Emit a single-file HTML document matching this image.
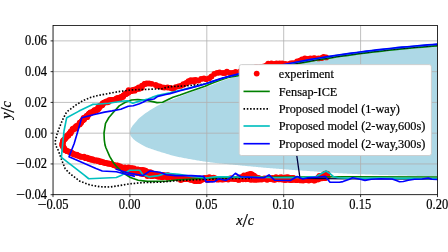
<!DOCTYPE html>
<html lang="en"><head><meta charset="utf-8"><title>Ice shape comparison</title>
<style>html,body{margin:0;padding:0;background:#fff;overflow:hidden}svg{display:block}</style></head>
<body>
<svg width="448" height="252" viewBox="0 0 448 252">
<rect width="448" height="252" fill="#fff"/>
<defs><clipPath id="ax"><rect x="53.0" y="25.5" width="384.5" height="169.2"/></clipPath></defs>
<g clip-path="url(#ax)">
<polygon points="130.00,133.10 130.00,132.83 130.01,132.55 130.02,132.28 130.05,132.01 130.08,131.74 130.12,131.47 130.16,131.20 130.21,130.93 130.27,130.67 130.34,130.40 130.41,130.14 130.48,129.88 130.56,129.62 130.65,129.36 130.74,129.10 130.83,128.85 130.94,128.59 131.04,128.34 131.15,128.10 131.27,127.85 131.40,127.61 131.53,127.37 131.66,127.14 131.80,126.90 131.95,126.67 132.10,126.44 132.25,126.22 132.41,125.99 132.57,125.77 132.74,125.55 132.90,125.34 133.07,125.12 133.25,124.91 133.42,124.69 133.60,124.48 133.78,124.27 133.96,124.06 134.15,123.85 134.33,123.65 134.51,123.44 134.70,123.24 134.88,123.03 135.07,122.83 135.25,122.62 135.44,122.42 135.62,122.21 135.80,122.01 135.98,121.80 136.16,121.60 136.34,121.39 136.51,121.19 136.69,120.98 136.86,120.77 137.02,120.56 137.19,120.35 137.35,120.14 137.50,119.93 137.65,119.72 137.80,119.51 139.05,118.35 140.31,117.26 141.56,116.22 142.82,115.23 144.07,114.28 145.32,113.37 146.58,112.49 147.83,111.63 149.09,110.81 150.34,110.00 151.59,109.22 152.85,108.45 154.10,107.71 155.36,106.98 156.61,106.27 157.86,105.57 159.12,104.89 160.37,104.21 161.63,103.56 162.88,102.91 164.13,102.29 165.39,101.83 166.64,101.38 167.90,100.95 169.15,100.52 170.40,100.10 171.66,99.69 172.91,99.28 174.17,98.75 175.42,98.21 176.67,97.68 177.93,97.16 179.18,96.64 180.44,96.14 181.69,95.64 182.94,95.15 184.20,94.67 185.45,94.19 186.71,93.72 187.96,93.26 189.21,92.80 190.47,92.34 191.72,91.89 192.97,91.45 194.23,91.01 195.48,90.57 196.74,90.14 197.99,89.72 199.24,89.29 200.50,88.88 201.75,88.47 203.01,88.06 204.26,87.65 205.51,87.23 206.77,86.77 208.02,86.32 209.28,85.87 210.53,85.43 211.78,84.98 213.04,84.47 214.29,83.95 215.55,83.43 216.80,82.91 218.05,82.40 219.31,81.89 220.56,81.42 221.82,80.99 223.07,80.57 224.32,80.15 225.58,79.74 226.83,79.32 228.09,78.91 229.34,78.51 230.59,78.11 231.85,77.71 233.10,77.31 234.36,76.92 235.61,76.53 236.86,76.14 238.12,75.75 239.37,75.40 240.63,75.10 241.88,74.81 243.13,74.52 244.39,74.23 245.64,73.94 246.90,73.66 248.15,73.38 249.40,73.10 250.66,72.83 251.91,72.55 253.17,72.28 254.42,72.01 255.67,71.75 256.93,71.48 258.18,71.22 259.44,70.96 260.69,70.70 261.94,70.45 263.20,70.20 264.45,69.95 265.71,69.70 266.96,69.45 268.21,69.21 269.47,68.97 270.72,68.73 271.98,68.49 273.23,68.25 274.48,68.02 275.74,67.79 276.99,67.56 278.25,67.33 279.50,67.10 280.75,66.88 282.01,66.66 283.26,66.43 284.52,66.17 285.77,65.91 287.02,65.66 288.28,65.41 289.53,65.16 290.78,64.91 292.04,64.67 293.29,64.42 294.55,64.18 295.80,63.94 297.05,63.70 298.31,63.46 299.56,63.23 300.82,62.99 302.07,62.76 303.32,62.53 304.58,62.30 305.83,62.08 307.09,61.85 308.34,61.63 309.59,61.41 310.85,61.19 312.10,60.97 313.36,60.75 314.61,60.53 315.86,60.32 317.12,60.11 318.37,59.90 319.63,59.69 320.88,59.48 322.13,59.27 323.39,59.07 324.64,58.86 325.90,58.66 327.15,58.46 328.40,58.26 329.66,58.07 330.91,57.87 332.17,57.68 333.42,57.48 334.67,57.29 335.93,57.10 337.18,56.91 338.44,56.73 339.69,56.54 340.94,56.36 342.20,56.17 343.45,55.99 344.71,55.81 345.96,55.63 347.21,55.45 348.47,55.28 349.72,55.10 350.98,54.93 352.23,54.76 353.48,54.59 354.74,54.42 355.99,54.25 357.25,54.08 358.50,53.92 359.75,53.75 361.01,53.59 362.26,53.43 363.52,53.27 364.77,53.11 366.02,52.95 367.28,52.80 368.53,52.64 369.79,52.49 371.04,52.33 372.29,52.18 373.55,52.03 374.80,51.88 376.06,51.73 377.31,51.59 378.56,51.44 379.82,51.30 381.07,51.16 382.33,51.01 383.58,50.87 384.83,50.73 386.09,50.60 387.34,50.46 388.59,50.32 389.85,50.19 391.10,50.05 392.36,49.92 393.61,49.79 394.86,49.66 396.12,49.53 397.37,49.40 398.63,49.28 399.88,49.15 401.13,49.03 402.39,48.90 403.64,48.78 404.90,48.66 406.15,48.54 407.40,48.42 408.66,48.31 409.91,48.19 411.17,48.07 412.42,47.96 413.67,47.85 414.93,47.73 416.18,47.62 417.44,47.51 418.69,47.40 419.94,47.30 421.20,47.19 422.45,47.08 423.71,46.98 424.96,46.87 426.21,46.77 427.47,46.67 428.72,46.57 429.98,46.47 431.23,46.37 432.48,46.27 433.74,46.18 434.99,46.08 436.25,45.99 437.50,45.89 437.50,176.30 436.44,176.28 435.38,176.27 434.32,176.25 433.26,176.23 432.20,176.21 431.14,176.19 430.08,176.17 429.02,176.15 427.96,176.13 426.90,176.10 425.84,176.08 424.78,176.06 423.72,176.03 422.66,176.01 421.60,175.99 420.54,175.96 419.48,175.94 418.42,175.91 417.36,175.89 416.30,175.86 415.24,175.83 414.18,175.81 413.12,175.78 412.06,175.75 411.00,175.73 409.94,175.70 408.88,175.67 407.82,175.64 406.76,175.61 405.70,175.59 404.64,175.56 403.58,175.53 402.52,175.50 401.46,175.47 400.40,175.45 399.34,175.42 398.28,175.39 397.22,175.36 396.16,175.33 395.10,175.30 394.04,175.27 392.98,175.25 391.92,175.22 390.87,175.19 389.81,175.16 388.75,175.13 387.69,175.11 386.63,175.08 385.57,175.05 384.51,175.03 383.45,175.00 382.39,174.97 381.33,174.95 380.27,174.92 379.21,174.89 378.15,174.85 377.09,174.81 376.03,174.77 374.97,174.73 373.91,174.69 372.85,174.66 371.79,174.62 370.73,174.58 369.67,174.55 368.61,174.51 367.55,174.47 366.49,174.44 365.43,174.40 364.37,174.36 363.31,174.33 362.25,174.29 361.19,174.25 360.13,174.21 359.07,174.17 358.01,174.13 356.95,174.09 355.89,174.05 354.83,174.01 353.77,173.96 352.71,173.92 351.65,173.87 350.59,173.82 349.53,173.77 348.47,173.72 347.41,173.67 346.35,173.61 345.29,173.55 344.23,173.49 343.17,173.43 342.11,173.37 341.05,173.31 339.99,173.24 338.93,173.17 337.88,173.10 336.82,173.03 335.76,172.95 334.70,172.88 333.64,172.80 332.58,172.72 331.53,172.64 330.47,172.56 329.41,172.48 328.35,172.40 327.29,172.31 326.23,172.23 325.18,172.14 324.12,172.07 323.06,172.00 322.00,171.92 320.94,171.85 319.89,171.78 318.83,171.71 317.77,171.63 316.71,171.56 315.65,171.49 314.60,171.42 313.54,171.34 312.48,171.27 311.42,171.20 310.36,171.13 309.31,171.06 308.25,170.99 307.19,170.91 306.13,170.84 305.07,170.77 304.02,170.70 302.96,170.63 301.90,170.56 300.84,170.49 299.78,170.41 298.73,170.34 297.67,170.27 296.61,170.20 295.55,170.13 294.49,170.06 293.44,169.99 292.38,169.92 291.32,169.85 290.26,169.77 289.20,169.69 288.15,169.61 287.09,169.53 286.03,169.44 284.97,169.36 283.91,169.28 282.86,169.19 281.80,169.11 280.74,169.03 279.68,168.94 278.62,168.86 277.57,168.77 276.51,168.69 275.45,168.60 274.39,168.52 273.33,168.43 272.28,168.35 271.22,168.26 270.16,168.17 269.10,168.08 268.05,167.99 266.99,167.91 265.93,167.82 264.87,167.72 263.81,167.63 262.76,167.54 261.70,167.45 260.64,167.35 259.59,167.26 258.53,167.16 257.47,167.06 256.41,166.97 255.36,166.87 254.30,166.77 253.24,166.67 252.19,166.57 251.13,166.47 250.08,166.37 249.02,166.27 247.96,166.16 246.91,166.06 245.85,165.95 244.79,165.85 243.74,165.74 242.68,165.63 241.63,165.53 240.57,165.42 239.51,165.32 238.46,165.21 237.40,165.11 236.35,165.00 235.29,164.90 234.23,164.80 233.18,164.70 232.12,164.60 231.06,164.50 230.01,164.40 228.95,164.30 227.89,164.21 226.84,164.11 225.78,164.01 224.72,163.91 223.67,163.81 222.61,163.70 221.55,163.60 220.50,163.49 219.44,163.38 218.39,163.26 217.33,163.14 216.27,163.02 215.22,162.90 214.16,162.77 213.11,162.65 212.05,162.52 211.00,162.39 209.95,162.25 208.89,162.12 207.84,161.98 206.78,161.84 205.73,161.69 204.68,161.55 203.63,161.40 202.57,161.25 201.52,161.09 200.47,160.92 199.42,160.74 198.37,160.57 197.32,160.39 196.27,160.20 195.21,160.02 194.16,159.83 193.11,159.64 192.07,159.45 191.02,159.26 189.97,159.08 188.92,158.91 187.87,158.73 186.82,158.55 185.77,158.37 184.73,158.18 183.68,157.98 182.64,157.78 181.59,157.58 180.55,157.37 179.51,157.16 178.47,156.94 177.43,156.71 176.40,156.48 175.36,156.23 174.33,155.98 173.30,155.73 172.27,155.46 171.24,155.19 170.22,154.90 169.19,154.61 168.17,154.31 167.16,154.00 166.14,153.68 165.13,153.36 164.12,153.07 163.11,152.78 162.10,152.48 161.10,152.17 160.10,151.86 159.10,151.55 158.11,151.22 157.11,150.89 156.12,150.56 155.14,150.23 154.15,149.92 153.17,149.59 152.20,149.26 151.23,148.92 150.26,148.59 149.30,148.26 148.34,147.92 147.39,147.57 146.44,147.20 145.51,146.78 144.57,146.31 143.65,145.83 142.73,145.33 141.83,144.82 140.94,144.32 140.08,143.80 139.23,143.25 138.40,142.67 137.60,142.14 136.82,141.66 136.06,141.16 135.31,140.63 134.57,140.10 133.82,139.49 133.07,138.64 132.30,137.80 131.56,136.95 130.93,136.10 130.44,135.16 130.11,134.16 130.00,133.10" fill="#add8e6"/>
<g stroke="#b0b0b0" stroke-width="0.8" fill="none">
<line x1="53.00" y1="25.5" x2="53.00" y2="194.7"/>
<line x1="129.90" y1="25.5" x2="129.90" y2="194.7"/>
<line x1="206.80" y1="25.5" x2="206.80" y2="194.7"/>
<line x1="283.70" y1="25.5" x2="283.70" y2="194.7"/>
<line x1="360.60" y1="25.5" x2="360.60" y2="194.7"/>
<line x1="437.50" y1="25.5" x2="437.50" y2="194.7"/>
<line x1="53.0" y1="194.70" x2="437.5" y2="194.70"/>
<line x1="53.0" y1="163.94" x2="437.5" y2="163.94"/>
<line x1="53.0" y1="133.17" x2="437.5" y2="133.17"/>
<line x1="53.0" y1="102.41" x2="437.5" y2="102.41"/>
<line x1="53.0" y1="71.65" x2="437.5" y2="71.65"/>
<line x1="53.0" y1="40.88" x2="437.5" y2="40.88"/>
</g>
<g fill="#ff0000">
<circle cx="62.6" cy="143.4" r="2.9"/>
<circle cx="62.8" cy="142.3" r="2.9"/>
<circle cx="63.1" cy="141.1" r="2.9"/>
<circle cx="63.1" cy="140.6" r="2.9"/>
<circle cx="64.1" cy="139.7" r="2.9"/>
<circle cx="64.9" cy="139.1" r="2.9"/>
<circle cx="65.7" cy="137.9" r="2.9"/>
<circle cx="66.3" cy="137.0" r="2.9"/>
<circle cx="66.7" cy="136.4" r="2.9"/>
<circle cx="66.7" cy="135.8" r="2.9"/>
<circle cx="68.4" cy="135.4" r="2.9"/>
<circle cx="67.9" cy="135.7" r="2.9"/>
<circle cx="68.4" cy="134.6" r="2.9"/>
<circle cx="69.4" cy="133.4" r="2.9"/>
<circle cx="70.7" cy="133.3" r="2.9"/>
<circle cx="70.6" cy="132.2" r="2.9"/>
<circle cx="70.6" cy="131.6" r="2.9"/>
<circle cx="71.2" cy="131.6" r="2.9"/>
<circle cx="72.3" cy="130.3" r="2.9"/>
<circle cx="72.5" cy="129.2" r="2.9"/>
<circle cx="72.8" cy="129.0" r="2.9"/>
<circle cx="73.7" cy="129.0" r="2.9"/>
<circle cx="74.8" cy="128.5" r="2.9"/>
<circle cx="75.9" cy="128.5" r="2.9"/>
<circle cx="75.1" cy="127.1" r="2.9"/>
<circle cx="76.0" cy="127.3" r="2.9"/>
<circle cx="76.6" cy="126.6" r="2.9"/>
<circle cx="76.5" cy="125.9" r="2.9"/>
<circle cx="77.7" cy="125.8" r="2.9"/>
<circle cx="78.3" cy="125.1" r="2.9"/>
<circle cx="79.8" cy="124.0" r="2.9"/>
<circle cx="79.8" cy="124.2" r="2.9"/>
<circle cx="79.7" cy="122.6" r="2.9"/>
<circle cx="81.2" cy="122.6" r="2.9"/>
<circle cx="81.3" cy="122.0" r="2.9"/>
<circle cx="81.3" cy="121.6" r="2.9"/>
<circle cx="82.3" cy="120.5" r="2.9"/>
<circle cx="82.9" cy="120.2" r="2.9"/>
<circle cx="83.2" cy="119.5" r="2.9"/>
<circle cx="84.1" cy="119.4" r="2.9"/>
<circle cx="83.6" cy="118.0" r="2.9"/>
<circle cx="84.9" cy="117.7" r="2.9"/>
<circle cx="86.0" cy="116.9" r="2.9"/>
<circle cx="86.5" cy="115.9" r="2.9"/>
<circle cx="87.2" cy="117.2" r="2.9"/>
<circle cx="87.8" cy="115.4" r="2.9"/>
<circle cx="88.6" cy="114.3" r="2.9"/>
<circle cx="88.1" cy="115.1" r="2.9"/>
<circle cx="89.6" cy="113.5" r="2.9"/>
<circle cx="89.0" cy="113.6" r="2.9"/>
<circle cx="90.3" cy="113.5" r="2.9"/>
<circle cx="90.4" cy="112.4" r="2.9"/>
<circle cx="92.4" cy="112.1" r="2.9"/>
<circle cx="93.2" cy="111.7" r="2.9"/>
<circle cx="93.3" cy="111.5" r="2.9"/>
<circle cx="94.8" cy="110.4" r="2.9"/>
<circle cx="94.4" cy="110.2" r="2.9"/>
<circle cx="95.5" cy="110.3" r="2.9"/>
<circle cx="96.2" cy="110.5" r="2.9"/>
<circle cx="96.3" cy="109.8" r="2.9"/>
<circle cx="97.5" cy="109.7" r="2.9"/>
<circle cx="98.7" cy="108.7" r="2.9"/>
<circle cx="98.0" cy="107.6" r="2.9"/>
<circle cx="99.5" cy="107.2" r="2.9"/>
<circle cx="99.6" cy="105.8" r="2.9"/>
<circle cx="101.1" cy="105.8" r="2.9"/>
<circle cx="101.1" cy="105.2" r="2.9"/>
<circle cx="101.8" cy="105.3" r="2.9"/>
<circle cx="102.4" cy="104.9" r="2.9"/>
<circle cx="102.8" cy="103.9" r="2.9"/>
<circle cx="102.6" cy="103.3" r="2.9"/>
<circle cx="104.5" cy="102.4" r="2.9"/>
<circle cx="103.9" cy="102.6" r="2.9"/>
<circle cx="105.4" cy="102.4" r="2.9"/>
<circle cx="106.3" cy="102.2" r="2.9"/>
<circle cx="106.4" cy="101.4" r="2.9"/>
<circle cx="107.6" cy="102.3" r="2.9"/>
<circle cx="108.8" cy="101.7" r="2.9"/>
<circle cx="109.0" cy="100.8" r="2.9"/>
<circle cx="109.3" cy="100.3" r="2.9"/>
<circle cx="109.2" cy="100.2" r="2.9"/>
<circle cx="110.8" cy="100.2" r="2.9"/>
<circle cx="111.8" cy="99.9" r="2.9"/>
<circle cx="112.6" cy="99.9" r="2.9"/>
<circle cx="113.2" cy="99.8" r="2.9"/>
<circle cx="114.5" cy="99.9" r="2.9"/>
<circle cx="114.9" cy="99.6" r="2.9"/>
<circle cx="115.9" cy="98.8" r="2.9"/>
<circle cx="117.0" cy="98.8" r="2.9"/>
<circle cx="117.0" cy="98.2" r="2.9"/>
<circle cx="118.0" cy="97.9" r="2.9"/>
<circle cx="119.9" cy="98.7" r="2.9"/>
<circle cx="120.1" cy="97.4" r="2.9"/>
<circle cx="119.9" cy="98.2" r="2.9"/>
<circle cx="121.2" cy="96.9" r="2.9"/>
<circle cx="122.2" cy="96.9" r="2.9"/>
<circle cx="123.1" cy="96.8" r="2.9"/>
<circle cx="123.3" cy="95.8" r="2.9"/>
<circle cx="123.6" cy="95.5" r="2.9"/>
<circle cx="124.2" cy="94.8" r="2.9"/>
<circle cx="125.5" cy="94.2" r="2.9"/>
<circle cx="125.9" cy="93.8" r="2.9"/>
<circle cx="126.2" cy="93.1" r="2.9"/>
<circle cx="126.9" cy="93.6" r="2.9"/>
<circle cx="127.5" cy="92.3" r="2.9"/>
<circle cx="128.6" cy="92.6" r="2.9"/>
<circle cx="128.6" cy="90.2" r="2.9"/>
<circle cx="129.9" cy="91.2" r="2.9"/>
<circle cx="130.8" cy="91.1" r="2.9"/>
<circle cx="131.4" cy="90.5" r="2.9"/>
<circle cx="131.6" cy="90.9" r="2.9"/>
<circle cx="133.3" cy="90.4" r="2.9"/>
<circle cx="133.2" cy="89.8" r="2.9"/>
<circle cx="134.4" cy="89.9" r="2.9"/>
<circle cx="134.7" cy="90.7" r="2.9"/>
<circle cx="135.0" cy="89.3" r="2.9"/>
<circle cx="136.6" cy="89.1" r="2.9"/>
<circle cx="137.4" cy="88.6" r="2.9"/>
<circle cx="138.0" cy="88.5" r="2.9"/>
<circle cx="138.8" cy="87.4" r="2.9"/>
<circle cx="138.9" cy="88.0" r="2.9"/>
<circle cx="139.4" cy="88.8" r="2.9"/>
<circle cx="142.0" cy="85.7" r="2.9"/>
<circle cx="141.8" cy="87.8" r="2.9"/>
<circle cx="144.6" cy="83.8" r="2.9"/>
<circle cx="144.9" cy="84.0" r="2.9"/>
<circle cx="146.6" cy="83.5" r="2.9"/>
<circle cx="149.0" cy="83.5" r="2.9"/>
<circle cx="151.7" cy="83.8" r="2.9"/>
<circle cx="155.7" cy="85.0" r="2.9"/>
<circle cx="157.2" cy="85.9" r="2.9"/>
<circle cx="159.7" cy="86.3" r="2.9"/>
<circle cx="162.5" cy="87.3" r="2.9"/>
<circle cx="164.4" cy="87.6" r="2.9"/>
<circle cx="167.6" cy="87.5" r="2.9"/>
<circle cx="170.6" cy="88.0" r="2.9"/>
<circle cx="173.4" cy="88.9" r="2.9"/>
<circle cx="175.7" cy="87.1" r="2.9"/>
<circle cx="178.4" cy="86.3" r="2.9"/>
<circle cx="180.6" cy="85.9" r="2.9"/>
<circle cx="183.3" cy="84.2" r="2.9"/>
<circle cx="183.4" cy="84.8" r="2.9"/>
<circle cx="186.5" cy="82.8" r="2.9"/>
<circle cx="185.7" cy="83.4" r="2.9"/>
<circle cx="188.5" cy="81.2" r="2.9"/>
<circle cx="189.2" cy="81.9" r="2.9"/>
<circle cx="190.8" cy="80.2" r="2.9"/>
<circle cx="190.6" cy="81.2" r="2.9"/>
<circle cx="193.7" cy="80.2" r="2.9"/>
<circle cx="194.2" cy="81.8" r="2.9"/>
<circle cx="195.8" cy="80.0" r="2.9"/>
<circle cx="198.6" cy="80.6" r="2.9"/>
<circle cx="201.1" cy="78.9" r="2.9"/>
<circle cx="204.0" cy="78.5" r="2.9"/>
<circle cx="206.3" cy="79.2" r="2.9"/>
<circle cx="209.3" cy="78.2" r="2.9"/>
<circle cx="211.5" cy="76.5" r="2.9"/>
<circle cx="214.3" cy="73.9" r="2.9"/>
<circle cx="217.1" cy="72.9" r="2.9"/>
<circle cx="219.6" cy="72.5" r="2.9"/>
<circle cx="223.0" cy="73.0" r="2.9"/>
<circle cx="225.1" cy="73.1" r="2.9"/>
<circle cx="226.9" cy="71.7" r="2.9"/>
<circle cx="229.9" cy="72.9" r="2.9"/>
<circle cx="232.6" cy="72.9" r="2.9"/>
<circle cx="235.6" cy="71.9" r="2.9"/>
<circle cx="237.9" cy="73.2" r="2.9"/>
<circle cx="240.2" cy="71.3" r="2.9"/>
<circle cx="242.9" cy="71.3" r="2.9"/>
<circle cx="245.8" cy="70.5" r="2.9"/>
<circle cx="248.2" cy="69.4" r="2.9"/>
<circle cx="251.1" cy="70.3" r="2.9"/>
<circle cx="253.9" cy="68.3" r="2.9"/>
<circle cx="256.1" cy="67.0" r="2.9"/>
<circle cx="258.7" cy="67.4" r="2.9"/>
<circle cx="260.8" cy="66.9" r="2.9"/>
<circle cx="263.9" cy="66.5" r="2.9"/>
<circle cx="266.5" cy="65.5" r="2.9"/>
<circle cx="268.2" cy="63.7" r="2.9"/>
<circle cx="271.4" cy="63.5" r="2.9"/>
<circle cx="274.2" cy="64.0" r="2.9"/>
<circle cx="276.5" cy="63.3" r="2.9"/>
<circle cx="279.5" cy="63.3" r="2.9"/>
<circle cx="282.2" cy="63.3" r="2.9"/>
<circle cx="285.2" cy="63.9" r="2.9"/>
<circle cx="287.6" cy="64.4" r="2.9"/>
<circle cx="290.4" cy="63.3" r="2.9"/>
<circle cx="292.6" cy="63.1" r="2.9"/>
<circle cx="295.1" cy="63.1" r="2.9"/>
<circle cx="297.1" cy="61.4" r="2.9"/>
<circle cx="299.8" cy="60.7" r="2.9"/>
<circle cx="302.0" cy="59.4" r="2.9"/>
<circle cx="304.9" cy="58.4" r="2.9"/>
<circle cx="307.9" cy="58.9" r="2.9"/>
<circle cx="310.3" cy="58.4" r="2.9"/>
<circle cx="313.2" cy="58.4" r="2.9"/>
<circle cx="314.7" cy="58.1" r="2.9"/>
<circle cx="318.4" cy="58.4" r="2.9"/>
<circle cx="321.8" cy="58.0" r="2.9"/>
<circle cx="323.6" cy="57.0" r="2.9"/>
<circle cx="326.2" cy="57.4" r="2.9"/>
<circle cx="62.6" cy="143.2" r="2.9"/>
<circle cx="62.1" cy="145.0" r="2.9"/>
<circle cx="62.7" cy="145.3" r="2.9"/>
<circle cx="63.0" cy="146.7" r="2.9"/>
<circle cx="63.7" cy="147.3" r="2.9"/>
<circle cx="64.0" cy="148.2" r="2.9"/>
<circle cx="64.6" cy="149.6" r="2.9"/>
<circle cx="65.3" cy="150.2" r="2.9"/>
<circle cx="66.2" cy="150.5" r="2.9"/>
<circle cx="67.1" cy="151.2" r="2.9"/>
<circle cx="68.5" cy="151.4" r="2.9"/>
<circle cx="69.6" cy="151.9" r="2.9"/>
<circle cx="70.5" cy="152.3" r="2.9"/>
<circle cx="71.6" cy="152.7" r="2.9"/>
<circle cx="72.2" cy="153.5" r="2.9"/>
<circle cx="73.4" cy="154.0" r="2.9"/>
<circle cx="74.2" cy="154.4" r="2.9"/>
<circle cx="75.3" cy="154.7" r="2.9"/>
<circle cx="76.7" cy="154.7" r="2.9"/>
<circle cx="77.4" cy="155.4" r="2.9"/>
<circle cx="77.9" cy="155.4" r="2.9"/>
<circle cx="79.5" cy="156.3" r="2.9"/>
<circle cx="80.4" cy="156.5" r="2.9"/>
<circle cx="81.2" cy="156.8" r="2.9"/>
<circle cx="82.5" cy="156.8" r="2.9"/>
<circle cx="84.1" cy="156.7" r="2.9"/>
<circle cx="85.3" cy="157.8" r="2.9"/>
<circle cx="85.7" cy="158.2" r="2.9"/>
<circle cx="87.2" cy="157.7" r="2.9"/>
<circle cx="88.4" cy="158.4" r="2.9"/>
<circle cx="88.7" cy="159.0" r="2.9"/>
<circle cx="90.1" cy="158.6" r="2.9"/>
<circle cx="91.2" cy="159.8" r="2.9"/>
<circle cx="92.3" cy="159.4" r="2.9"/>
<circle cx="92.8" cy="159.5" r="2.9"/>
<circle cx="94.3" cy="160.5" r="2.9"/>
<circle cx="95.8" cy="160.4" r="2.9"/>
<circle cx="96.9" cy="160.4" r="2.9"/>
<circle cx="98.1" cy="161.2" r="2.9"/>
<circle cx="98.5" cy="160.6" r="2.9"/>
<circle cx="100.3" cy="162.0" r="2.9"/>
<circle cx="101.0" cy="161.5" r="2.9"/>
<circle cx="101.4" cy="162.1" r="2.9"/>
<circle cx="103.1" cy="162.2" r="2.9"/>
<circle cx="103.9" cy="162.7" r="2.9"/>
<circle cx="105.2" cy="163.1" r="2.9"/>
<circle cx="106.1" cy="162.8" r="2.9"/>
<circle cx="107.5" cy="163.6" r="2.9"/>
<circle cx="108.3" cy="163.5" r="2.9"/>
<circle cx="109.2" cy="163.6" r="2.9"/>
<circle cx="110.7" cy="164.0" r="2.9"/>
<circle cx="111.5" cy="164.1" r="2.9"/>
<circle cx="112.4" cy="164.4" r="2.9"/>
<circle cx="114.0" cy="165.2" r="2.9"/>
<circle cx="114.5" cy="165.1" r="2.9"/>
<circle cx="115.5" cy="165.8" r="2.9"/>
<circle cx="116.6" cy="165.8" r="2.9"/>
<circle cx="117.4" cy="165.7" r="2.9"/>
<circle cx="117.2" cy="165.5" r="2.9"/>
<circle cx="119.7" cy="166.2" r="2.9"/>
<circle cx="120.9" cy="166.9" r="2.9"/>
<circle cx="120.5" cy="166.9" r="2.9"/>
<circle cx="122.9" cy="167.8" r="2.9"/>
<circle cx="123.0" cy="167.8" r="2.9"/>
<circle cx="124.6" cy="167.5" r="2.9"/>
<circle cx="124.8" cy="169.0" r="2.9"/>
<circle cx="125.7" cy="167.6" r="2.9"/>
<circle cx="126.2" cy="170.7" r="2.9"/>
<circle cx="128.4" cy="167.5" r="2.9"/>
<circle cx="127.4" cy="170.5" r="2.9"/>
<circle cx="129.1" cy="168.2" r="2.9"/>
<circle cx="129.4" cy="171.0" r="2.9"/>
<circle cx="131.3" cy="168.2" r="2.9"/>
<circle cx="130.4" cy="170.7" r="2.9"/>
<circle cx="132.0" cy="168.1" r="2.9"/>
<circle cx="131.6" cy="172.0" r="2.9"/>
<circle cx="134.1" cy="168.5" r="2.9"/>
<circle cx="133.6" cy="171.5" r="2.9"/>
<circle cx="135.2" cy="169.7" r="2.9"/>
<circle cx="134.7" cy="172.4" r="2.9"/>
<circle cx="137.5" cy="169.3" r="2.9"/>
<circle cx="137.1" cy="173.0" r="2.9"/>
<circle cx="138.4" cy="169.7" r="2.9"/>
<circle cx="139.4" cy="172.5" r="2.9"/>
<circle cx="140.1" cy="169.8" r="2.9"/>
<circle cx="140.8" cy="173.7" r="2.9"/>
<circle cx="142.3" cy="169.8" r="2.9"/>
<circle cx="141.6" cy="173.6" r="2.9"/>
<circle cx="143.8" cy="170.1" r="2.9"/>
<circle cx="143.6" cy="174.0" r="2.9"/>
<circle cx="145.6" cy="170.7" r="2.9"/>
<circle cx="145.4" cy="173.8" r="2.9"/>
<circle cx="146.6" cy="171.6" r="2.9"/>
<circle cx="147.4" cy="176.0" r="2.9"/>
<circle cx="148.5" cy="172.4" r="2.9"/>
<circle cx="148.8" cy="174.5" r="2.9"/>
<circle cx="150.3" cy="172.2" r="2.9"/>
<circle cx="150.7" cy="176.0" r="2.9"/>
<circle cx="151.8" cy="172.8" r="2.9"/>
<circle cx="152.3" cy="175.7" r="2.9"/>
<circle cx="153.2" cy="173.8" r="2.9"/>
<circle cx="152.5" cy="176.0" r="2.9"/>
<circle cx="155.2" cy="174.2" r="2.9"/>
<circle cx="154.9" cy="175.7" r="2.9"/>
<circle cx="156.7" cy="174.5" r="2.9"/>
<circle cx="156.4" cy="176.1" r="2.9"/>
<circle cx="158.3" cy="175.2" r="2.9"/>
<circle cx="158.2" cy="176.8" r="2.9"/>
<circle cx="160.1" cy="175.5" r="2.9"/>
<circle cx="159.7" cy="176.5" r="2.9"/>
<circle cx="161.0" cy="174.9" r="2.9"/>
<circle cx="161.4" cy="177.0" r="2.9"/>
<circle cx="162.6" cy="175.0" r="2.9"/>
<circle cx="162.4" cy="177.3" r="2.9"/>
<circle cx="164.2" cy="175.2" r="2.9"/>
<circle cx="164.1" cy="176.7" r="2.9"/>
<circle cx="165.7" cy="175.9" r="2.9"/>
<circle cx="166.1" cy="176.9" r="2.9"/>
<circle cx="167.2" cy="175.2" r="2.9"/>
<circle cx="167.8" cy="177.7" r="2.9"/>
<circle cx="168.6" cy="175.3" r="2.9"/>
<circle cx="169.1" cy="176.9" r="2.9"/>
<circle cx="170.1" cy="175.9" r="2.9"/>
<circle cx="171.1" cy="176.6" r="2.9"/>
<circle cx="172.5" cy="176.5" r="2.9"/>
<circle cx="172.8" cy="177.2" r="2.9"/>
<circle cx="174.9" cy="176.6" r="2.9"/>
<circle cx="173.7" cy="178.0" r="2.9"/>
<circle cx="175.2" cy="176.9" r="2.9"/>
<circle cx="175.1" cy="178.1" r="2.9"/>
<circle cx="177.0" cy="177.2" r="2.9"/>
<circle cx="177.5" cy="178.2" r="2.9"/>
<circle cx="178.8" cy="177.4" r="2.9"/>
<circle cx="178.1" cy="178.4" r="2.9"/>
<circle cx="180.6" cy="177.4" r="2.9"/>
<circle cx="180.7" cy="180.0" r="2.9"/>
<circle cx="182.0" cy="177.7" r="2.9"/>
<circle cx="182.1" cy="179.4" r="2.9"/>
<circle cx="182.8" cy="178.3" r="2.9"/>
<circle cx="183.3" cy="178.1" r="2.9"/>
<circle cx="184.8" cy="177.8" r="2.9"/>
<circle cx="185.3" cy="179.2" r="2.9"/>
<circle cx="187.1" cy="178.1" r="2.9"/>
<circle cx="186.8" cy="178.6" r="2.9"/>
<circle cx="188.6" cy="178.7" r="2.9"/>
<circle cx="188.2" cy="178.9" r="2.9"/>
<circle cx="189.5" cy="179.2" r="2.9"/>
<circle cx="189.8" cy="179.6" r="2.9"/>
<circle cx="191.3" cy="179.0" r="2.9"/>
<circle cx="191.4" cy="179.9" r="2.9"/>
<circle cx="192.6" cy="179.0" r="2.9"/>
<circle cx="193.6" cy="180.6" r="2.9"/>
<circle cx="195.2" cy="179.4" r="2.9"/>
<circle cx="194.9" cy="181.1" r="2.9"/>
<circle cx="196.4" cy="179.9" r="2.9"/>
<circle cx="196.6" cy="181.0" r="2.9"/>
<circle cx="198.1" cy="179.2" r="2.9"/>
<circle cx="198.2" cy="180.9" r="2.9"/>
<circle cx="199.8" cy="178.4" r="2.9"/>
<circle cx="199.8" cy="181.0" r="2.9"/>
<circle cx="200.7" cy="179.4" r="2.9"/>
<circle cx="201.3" cy="180.0" r="2.9"/>
<circle cx="202.1" cy="179.0" r="2.9"/>
<circle cx="202.4" cy="179.4" r="2.9"/>
<circle cx="204.6" cy="177.9" r="2.9"/>
<circle cx="204.0" cy="178.9" r="2.9"/>
<circle cx="206.0" cy="178.3" r="2.9"/>
<circle cx="206.2" cy="179.3" r="2.9"/>
<circle cx="207.5" cy="178.0" r="2.9"/>
<circle cx="207.3" cy="179.8" r="2.9"/>
<circle cx="209.3" cy="177.1" r="2.9"/>
<circle cx="208.8" cy="179.7" r="2.9"/>
<circle cx="210.3" cy="177.8" r="2.9"/>
<circle cx="211.0" cy="178.6" r="2.9"/>
<circle cx="212.8" cy="178.6" r="2.9"/>
<circle cx="212.1" cy="179.5" r="2.9"/>
<circle cx="213.6" cy="177.6" r="2.9"/>
<circle cx="214.1" cy="179.2" r="2.9"/>
<circle cx="215.4" cy="178.5" r="2.9"/>
<circle cx="215.0" cy="178.8" r="2.9"/>
<circle cx="216.8" cy="178.8" r="2.9"/>
<circle cx="217.5" cy="179.7" r="2.9"/>
<circle cx="218.3" cy="178.9" r="2.9"/>
<circle cx="219.0" cy="179.0" r="2.9"/>
<circle cx="220.1" cy="179.4" r="2.9"/>
<circle cx="222.3" cy="179.6" r="2.9"/>
<circle cx="223.8" cy="179.4" r="2.9"/>
<circle cx="225.3" cy="179.1" r="2.9"/>
<circle cx="226.5" cy="178.8" r="2.9"/>
<circle cx="228.2" cy="179.6" r="2.9"/>
<circle cx="230.1" cy="178.5" r="2.9"/>
<circle cx="231.5" cy="178.5" r="2.9"/>
<circle cx="233.1" cy="178.9" r="2.9"/>
<circle cx="234.8" cy="179.1" r="2.9"/>
<circle cx="236.1" cy="178.9" r="2.9"/>
<circle cx="238.4" cy="177.9" r="2.9"/>
<circle cx="238.1" cy="179.5" r="2.9"/>
<circle cx="239.5" cy="177.8" r="2.9"/>
<circle cx="238.9" cy="179.9" r="2.9"/>
<circle cx="240.8" cy="177.2" r="2.9"/>
<circle cx="241.5" cy="178.7" r="2.9"/>
<circle cx="243.2" cy="177.3" r="2.9"/>
<circle cx="243.0" cy="179.3" r="2.9"/>
<circle cx="243.9" cy="175.5" r="2.9"/>
<circle cx="245.0" cy="179.2" r="2.9"/>
<circle cx="245.8" cy="176.1" r="2.9"/>
<circle cx="245.7" cy="179.3" r="2.9"/>
<circle cx="247.5" cy="174.6" r="2.9"/>
<circle cx="247.2" cy="179.2" r="2.9"/>
<circle cx="247.6" cy="177.1" r="2.9"/>
<circle cx="249.7" cy="174.8" r="2.9"/>
<circle cx="248.0" cy="178.6" r="2.9"/>
<circle cx="249.2" cy="176.9" r="2.9"/>
<circle cx="250.9" cy="174.3" r="2.9"/>
<circle cx="250.7" cy="179.8" r="2.9"/>
<circle cx="250.8" cy="176.9" r="2.9"/>
<circle cx="251.7" cy="174.8" r="2.9"/>
<circle cx="252.5" cy="179.6" r="2.9"/>
<circle cx="252.4" cy="176.9" r="2.9"/>
<circle cx="254.1" cy="175.7" r="2.9"/>
<circle cx="253.9" cy="179.2" r="2.9"/>
<circle cx="255.9" cy="177.1" r="2.9"/>
<circle cx="255.1" cy="179.9" r="2.9"/>
<circle cx="257.7" cy="178.4" r="2.9"/>
<circle cx="257.2" cy="179.5" r="2.9"/>
<circle cx="258.6" cy="177.8" r="2.9"/>
<circle cx="258.8" cy="179.5" r="2.9"/>
<circle cx="260.1" cy="179.3" r="2.9"/>
<circle cx="259.8" cy="179.1" r="2.9"/>
<circle cx="261.7" cy="179.5" r="2.9"/>
<circle cx="263.5" cy="178.7" r="2.9"/>
<circle cx="264.8" cy="178.3" r="2.9"/>
<circle cx="266.3" cy="178.9" r="2.9"/>
<circle cx="267.0" cy="179.8" r="2.9"/>
<circle cx="268.1" cy="179.3" r="2.9"/>
<circle cx="268.0" cy="178.6" r="2.9"/>
<circle cx="269.9" cy="178.2" r="2.9"/>
<circle cx="270.3" cy="179.0" r="2.9"/>
<circle cx="271.8" cy="178.6" r="2.9"/>
<circle cx="271.3" cy="179.1" r="2.9"/>
<circle cx="272.5" cy="177.9" r="2.9"/>
<circle cx="273.5" cy="179.7" r="2.9"/>
<circle cx="275.1" cy="178.1" r="2.9"/>
<circle cx="274.9" cy="179.8" r="2.9"/>
<circle cx="276.0" cy="177.1" r="2.9"/>
<circle cx="276.5" cy="179.1" r="2.9"/>
<circle cx="278.2" cy="177.8" r="2.9"/>
<circle cx="278.2" cy="179.1" r="2.9"/>
<circle cx="279.3" cy="177.6" r="2.9"/>
<circle cx="279.3" cy="179.4" r="2.9"/>
<circle cx="281.1" cy="177.1" r="2.9"/>
<circle cx="281.6" cy="179.2" r="2.9"/>
<circle cx="282.2" cy="177.8" r="2.9"/>
<circle cx="282.9" cy="179.7" r="2.9"/>
<circle cx="284.4" cy="177.6" r="2.9"/>
<circle cx="284.9" cy="180.0" r="2.9"/>
<circle cx="285.9" cy="177.3" r="2.9"/>
<circle cx="286.2" cy="179.6" r="2.9"/>
<circle cx="287.8" cy="177.2" r="2.9"/>
<circle cx="286.7" cy="179.7" r="2.9"/>
<circle cx="289.5" cy="177.9" r="2.9"/>
<circle cx="289.9" cy="179.9" r="2.9"/>
<circle cx="290.6" cy="178.1" r="2.9"/>
<circle cx="290.8" cy="180.1" r="2.9"/>
<circle cx="292.5" cy="178.0" r="2.9"/>
<circle cx="292.5" cy="179.7" r="2.9"/>
<circle cx="293.4" cy="178.0" r="2.9"/>
<circle cx="293.1" cy="179.9" r="2.9"/>
<circle cx="296.0" cy="179.1" r="2.9"/>
<circle cx="295.7" cy="179.5" r="2.9"/>
<circle cx="296.6" cy="179.8" r="2.9"/>
<circle cx="296.6" cy="180.2" r="2.9"/>
<circle cx="297.9" cy="179.7" r="2.9"/>
<circle cx="300.7" cy="180.4" r="2.9"/>
<circle cx="302.0" cy="179.9" r="2.9"/>
<circle cx="303.2" cy="180.6" r="2.9"/>
<circle cx="305.4" cy="180.1" r="2.9"/>
<circle cx="306.9" cy="179.8" r="2.9"/>
<circle cx="308.8" cy="180.6" r="2.9"/>
<circle cx="309.7" cy="180.1" r="2.9"/>
<circle cx="312.0" cy="179.8" r="2.9"/>
<circle cx="314.0" cy="180.6" r="2.9"/>
<circle cx="314.7" cy="180.4" r="2.9"/>
<circle cx="317.1" cy="178.4" r="2.9"/>
<circle cx="318.2" cy="177.6" r="2.9"/>
<circle cx="317.9" cy="179.5" r="2.9"/>
<circle cx="319.4" cy="175.9" r="2.9"/>
<circle cx="319.0" cy="178.7" r="2.9"/>
<circle cx="321.5" cy="175.6" r="2.9"/>
<circle cx="321.1" cy="178.4" r="2.9"/>
<circle cx="323.3" cy="175.1" r="2.9"/>
<circle cx="322.5" cy="178.0" r="2.9"/>
<circle cx="324.9" cy="174.0" r="2.9"/>
<circle cx="324.2" cy="177.9" r="2.9"/>
<circle cx="325.6" cy="173.9" r="2.9"/>
<circle cx="325.1" cy="178.2" r="2.9"/>
<circle cx="327.4" cy="173.8" r="2.9"/>
<circle cx="327.7" cy="176.9" r="2.9"/>
<circle cx="326.0" cy="173.4" r="2.9"/>
<circle cx="324.5" cy="174.2" r="2.9"/>
<circle cx="327.5" cy="174.2" r="2.9"/>
<circle cx="250.5" cy="173.8" r="2.9"/>
<circle cx="249.0" cy="174.3" r="2.9"/>
<circle cx="252.0" cy="174.3" r="2.9"/>
</g>
<g fill="none" stroke-width="1.64" stroke-linejoin="round">
<polyline stroke="#008000" points="437.50,45.89 432.44,46.28 427.37,46.68 422.31,47.09 417.24,47.53 412.18,47.98 407.12,48.45 402.05,48.94 396.99,49.44 391.92,49.97 386.86,50.51 381.79,51.07 376.73,51.66 371.67,52.26 366.60,52.88 361.54,53.52 356.47,54.19 351.41,54.87 346.35,55.58 341.28,56.31 336.22,57.06 331.15,57.83 326.09,58.63 321.03,59.45 315.96,60.30 310.90,61.18 305.83,62.08 300.77,63.00 295.71,63.96 290.64,64.94 285.58,65.95 280.51,66.92 275.45,67.84 270.38,68.79 265.32,69.77 260.26,70.79 255.19,71.85 250.13,72.94 245.06,74.07 238.10,75.60 228.00,77.50 220.00,80.20 212.00,83.20 205.00,86.20 197.00,89.00 189.00,91.80 180.00,95.00 173.00,97.20 168.20,99.50 162.60,102.30 157.00,102.60 153.90,101.90 146.00,100.30 137.70,99.50 131.40,100.00 125.40,102.20 119.20,105.90 114.10,111.50 108.90,117.50 105.50,123.40 104.00,133.00 104.30,140.00 105.00,145.00 106.00,148.00 109.80,156.70 113.60,163.00 116.30,166.25 122.60,172.50 130.40,177.50 138.20,180.30 147.60,181.40 166.00,181.20 175.60,180.00 191.25,179.00 206.90,178.20 230.00,177.60 252.00,177.30 300.00,177.00 348.00,176.80 437.50,177.00"/>
<polyline stroke="#000" stroke-dasharray="1.55 1.73" points="437.50,45.04 432.44,45.43 427.37,45.83 422.31,46.24 417.24,46.68 412.18,47.13 407.12,47.60 402.05,48.09 396.99,48.59 391.92,49.12 386.86,49.66 381.79,50.22 376.73,50.81 371.67,51.41 366.60,52.03 361.54,52.67 356.47,53.34 351.41,54.02 346.35,54.73 341.28,55.46 336.22,56.21 331.15,56.98 326.09,57.78 321.03,58.60 315.96,59.45 310.90,60.33 305.83,61.23 300.77,62.15 295.71,63.11 290.64,64.09 285.58,65.10 280.51,66.07 275.45,66.99 270.38,67.94 265.32,68.92 260.26,69.94 255.19,71.00 250.13,72.09 245.06,73.22 238.10,75.00 228.00,76.80 220.00,79.00 212.00,81.70 206.00,83.60 202.00,84.30 194.00,85.10 186.00,85.90 178.00,86.30 170.00,86.70 164.00,88.00 161.90,88.70 144.10,89.50 131.40,89.90 118.70,91.60 106.00,94.00 98.25,95.40 90.60,97.40 83.00,100.60 75.40,105.40 67.80,111.10 65.90,113.30 62.70,119.60 59.50,127.20 57.00,134.20 55.30,141.00 55.50,145.00 58.25,150.30 61.40,159.20 65.20,168.80 70.00,173.75 80.00,181.25 90.00,185.00 100.00,186.75 110.00,187.00 120.00,185.50 130.00,183.75 145.00,182.50 160.00,182.20 175.60,180.80 191.25,180.00 206.90,179.30 230.00,178.60 252.00,178.30"/>
<polyline stroke="#000040" stroke-width="1.3" points="437.50,45.09 433.56,45.39 429.63,45.70 425.69,46.01 421.76,46.34 417.82,46.68 413.88,47.03 409.95,47.39 406.01,47.76 402.08,48.14 398.14,48.53 394.21,48.93 390.27,49.34 386.33,49.77 382.40,50.21 378.46,50.65 374.53,51.12 370.59,51.59 366.65,52.07 362.72,52.57 358.78,53.08 354.85,53.60 350.91,54.14 346.97,54.69 343.04,55.25 339.10,55.83 335.17,56.42 331.23,57.02 327.29,57.64 323.36,58.27 319.42,58.92 315.49,59.58 311.55,60.26 307.62,60.96 303.68,61.67 299.74,62.39 295.81,63.14 291.87,63.90 287.94,64.68 284.00,65.48 300.00,178.40 348.00,178.90 437.50,179.00"/>
<polyline stroke="#00bfbf" points="437.50,44.39 432.44,44.78 427.37,45.18 422.31,45.59 417.24,46.03 412.18,46.48 407.12,46.95 402.05,47.44 396.99,47.94 391.92,48.47 386.86,49.01 381.79,49.57 376.73,50.16 371.67,50.76 366.60,51.38 361.54,52.02 356.47,52.69 351.41,53.37 346.35,54.08 341.28,54.81 336.22,55.56 331.15,56.33 326.09,57.13 321.03,57.95 315.96,58.80 310.90,59.68 305.83,60.58 300.77,61.50 295.71,62.46 290.64,63.44 285.58,64.45 280.51,65.42 275.45,66.34 270.38,67.29 265.32,68.27 260.26,69.29 255.19,70.35 250.13,71.44 245.06,72.57 238.10,74.20 228.00,76.70 220.00,79.00 212.00,81.60 205.00,84.00 200.00,85.30 190.00,87.90 180.00,90.30 170.00,92.80 164.00,94.00 158.00,95.40 152.00,97.40 147.90,99.00 139.20,101.10 132.80,103.30 127.70,100.70 121.40,101.30 108.70,103.20 96.00,104.30 92.60,104.40 79.00,111.10 66.70,117.70 64.00,131.00 62.70,143.70 61.40,157.30 84.30,175.10 88.75,178.75 116.30,177.50 121.00,175.60 129.60,170.20 139.75,170.20 142.90,174.80 149.10,176.90 158.50,175.60 166.25,173.30 178.75,174.40 191.25,176.40 206.90,178.00 214.70,176.90 230.00,176.80 245.00,177.30 260.00,177.20 275.00,177.70 290.00,177.60 305.00,177.40 316.50,176.50 321.00,173.70 326.00,171.00 330.00,173.50 333.50,176.70 338.00,177.80 343.00,178.00 350.00,178.20 365.00,178.30 380.00,178.00 395.00,178.40 410.00,178.20 425.00,178.50 437.50,178.60"/>
<polyline stroke="#0000ff" points="437.50,44.14 432.44,44.53 427.37,44.93 422.31,45.34 417.24,45.78 412.18,46.23 407.12,46.70 402.05,47.19 396.99,47.69 391.92,48.22 386.86,48.76 381.79,49.32 376.73,49.91 371.67,50.51 366.60,51.13 361.54,51.77 356.47,52.44 351.41,53.12 346.35,53.83 341.28,54.56 336.22,55.31 331.15,56.08 326.09,56.88 321.03,57.70 315.96,58.55 310.90,59.43 305.83,60.33 300.77,61.25 295.71,62.21 290.64,63.19 285.58,64.20 280.51,65.17 275.45,66.09 270.38,67.04 265.32,68.02 260.26,69.04 255.19,70.10 250.13,71.19 245.06,72.32 239.00,73.90 228.00,76.60 220.00,78.90 212.00,81.60 205.00,84.00 200.00,85.40 190.00,88.10 180.00,90.80 170.00,93.60 165.80,94.50 157.80,96.40 153.90,99.00 147.50,99.90 142.80,102.30 139.50,103.70 133.25,105.80 128.25,106.20 120.75,109.20 112.00,110.90 104.50,112.10 94.40,114.50 81.70,117.70 77.90,131.00 74.10,143.70 69.00,156.70 96.00,168.60 102.25,171.00 116.30,171.70 135.00,176.40"/>
<polyline stroke="#0000ff" points="115.50,169.00 127.25,172.80 142.90,175.60 149.90,171.00 160.00,172.20 166.25,174.80 175.60,175.60 191.25,175.60 203.75,176.40 206.10,181.90 214.70,181.60 218.60,178.75 226.00,180.40 230.70,177.60 235.40,173.25 240.80,176.80 257.25,177.60 264.00,177.75 269.00,174.90 274.60,180.25 290.25,180.50 297.10,176.50 302.75,179.00 307.75,177.75 320.00,177.00 325.30,176.40 330.00,182.30 339.40,182.30 343.00,181.60 349.40,179.30 352.50,177.70 360.30,179.30 365.00,180.40 371.25,179.30 380.60,178.80 392.00,179.00 395.75,180.25 399.50,181.75 403.25,181.50 408.25,180.25 414.50,179.25 422.00,179.00 428.25,178.00 432.00,179.25 437.50,179.50"/>
</g>
</g>
<rect x="53.0" y="25.5" width="384.5" height="169.2" fill="none" stroke="#000" stroke-width="0.8"/>
<g stroke="#000" stroke-width="0.8">
<line x1="53.00" y1="194.7" x2="53.00" y2="197.1"/>
<line x1="129.90" y1="194.7" x2="129.90" y2="197.1"/>
<line x1="206.80" y1="194.7" x2="206.80" y2="197.1"/>
<line x1="283.70" y1="194.7" x2="283.70" y2="197.1"/>
<line x1="360.60" y1="194.7" x2="360.60" y2="197.1"/>
<line x1="437.50" y1="194.7" x2="437.50" y2="197.1"/>
<line x1="50.6" y1="194.70" x2="53.0" y2="194.70"/>
<line x1="50.6" y1="163.94" x2="53.0" y2="163.94"/>
<line x1="50.6" y1="133.17" x2="53.0" y2="133.17"/>
<line x1="50.6" y1="102.41" x2="53.0" y2="102.41"/>
<line x1="50.6" y1="71.65" x2="53.0" y2="71.65"/>
<line x1="50.6" y1="40.88" x2="53.0" y2="40.88"/>
</g>
<g font-family="'Liberation Serif', 'DejaVu Serif', serif" font-size="12.5" fill="#000" stroke="#000" stroke-width="0.2">
<text transform="translate(37.66,209.00) scale(1,1.12)"><tspan textLength="8.95" lengthAdjust="spacingAndGlyphs">−</tspan>0.05</text>
<text transform="translate(118.66,209.00) scale(1,1.12)">0.00</text>
<text transform="translate(195.56,209.00) scale(1,1.12)">0.05</text>
<text transform="translate(272.46,209.00) scale(1,1.12)">0.10</text>
<text transform="translate(349.36,209.00) scale(1,1.12)">0.15</text>
<text transform="translate(426.26,209.00) scale(1,1.12)">0.20</text>
<text transform="translate(16.18,199.25) scale(1,1.12)"><tspan textLength="8.95" lengthAdjust="spacingAndGlyphs">−</tspan>0.04</text>
<text transform="translate(16.18,168.49) scale(1,1.12)"><tspan textLength="8.95" lengthAdjust="spacingAndGlyphs">−</tspan>0.02</text>
<text transform="translate(25.12,137.72) scale(1,1.12)">0.00</text>
<text transform="translate(25.12,106.96) scale(1,1.12)">0.02</text>
<text transform="translate(25.12,76.20) scale(1,1.12)">0.04</text>
<text transform="translate(25.12,45.43) scale(1,1.12)">0.06</text>
</g>
<g font-family="'Liberation Serif', 'DejaVu Serif', serif" font-size="14.4" fill="#000" stroke="#000" stroke-width="0.2" font-style="italic">
<text x="245.2" y="224.6" text-anchor="middle">x<tspan font-size="19.5" font-style="normal" dx="-0.2" dy="2.4">/</tspan><tspan dx="-0.3" dy="-2.4">c</tspan></text>
<text transform="translate(11.2,110.0) rotate(-90)" text-anchor="middle">y<tspan font-size="19.5" font-style="normal" dx="-0.2" dy="2.4">/</tspan><tspan dx="-0.3" dy="-2.4">c</tspan></text>
</g>
<rect x="239.2" y="64.6" width="192.2" height="90.9" rx="2.2" ry="2.2" fill="#fff" stroke="#cccccc" stroke-width="0.9"/>
<circle cx="256.7" cy="73.6" r="2.9" fill="#ff0000"/>
<g fill="none" stroke-width="1.64">
<line x1="243.5" x2="269.8" y1="91.4" y2="91.4" stroke="#008000"/>
<line x1="243.5" x2="269.8" y1="108.9" y2="108.9" stroke="#000" stroke-dasharray="1.55 1.73"/>
<line x1="243.5" x2="269.8" y1="126.0" y2="126.0" stroke="#00bfbf"/>
<line x1="243.5" x2="269.8" y1="143.7" y2="143.7" stroke="#0000ff"/>
</g>
<g font-family="'Liberation Serif', 'DejaVu Serif', serif" font-size="12.25" fill="#000" stroke="#000" stroke-width="0.2">
<text x="278.8" y="77.9">experiment</text>
<text x="278.8" y="95.7">Fensap-ICE</text>
<text x="278.8" y="113.2">Proposed model (1-way)</text>
<text x="278.8" y="130.3">Proposed model (2-way,600s)</text>
<text x="278.8" y="148.0">Proposed model (2-way,300s)</text>
</g>
</svg>
</body></html>
